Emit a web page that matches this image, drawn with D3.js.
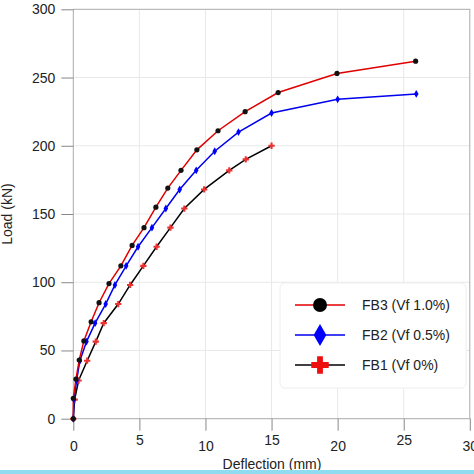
<!DOCTYPE html>
<html><head><meta charset="utf-8">
<script src="https://cdn.jsdelivr.net/npm/d3@7"></script>
<style>body{margin:0;background:#fff}svg{font-family:"Liberation Sans",Arial,sans-serif}</style>
</head><body><div id="chart"></div>
<script>
var fb3X = [0,0,0.2,0.45,0.8,1.35,1.95,2.7,3.6,4.45,5.35,6.25,7.15,8.15,9.35,10.95,13.0,15.5,19.95,25.9];
var fb3Y = [0,15,29,43,57,71,85,99,112,127,140,155,169,182,197,211,225,239,253,262];
var fb2X = [0,0.05,0.25,0.5,1.0,1.65,2.45,3.15,4.0,4.9,5.95,7.0,8.05,9.3,10.7,12.5,15.0,20.0,25.95];
var fb2Y = [0,14,28,42.5,56.5,70,84,98,112,126,140,154,168,182,196,210,224,234,238];
var fb1X = [0,0.1,0.4,1.05,1.7,2.3,3.4,4.3,5.3,6.3,7.35,8.4,9.9,11.8,13.05,15.0];
var fb1Y = [0,14,28,42.5,56.5,70,84,98,112,126,140,154,168,182,190,200];
var xTicks = [0,5,10,15,20,25,30];
var yTicks = [0,50,100,150,200,250,300];
var names = ["FB3 (Vf 1.0%)","FB2 (Vf 0.5%)","FB1 (Vf 0%)"];

var width = 474, height = 474;
var svg = d3.select("#chart").append("svg").attr("width", width).attr("height", height);

var x = d3.scaleLinear().domain([0,30]).range([73.3,469.8]);
var y = d3.scaleLinear().domain([0,300]).range([418.7,9.3]);

// grid
svg.append("g").selectAll("line").data(xTicks.slice(1,-1)).enter().append("line")
  .attr("x1", d => x(d)).attr("x2", d => x(d)).attr("y1", y(300)).attr("y2", y(0))
  .attr("stroke", "#e8e8e8");
svg.append("g").selectAll("line").data(yTicks.slice(1,-1)).enter().append("line")
  .attr("x1", x(0)).attr("x2", x(30)).attr("y1", d => y(d)).attr("y2", d => y(d))
  .attr("stroke", "#e8e8e8");

// frame
svg.append("rect").attr("x", x(0)).attr("y", y(300)).attr("width", x(30)-x(0)).attr("height", y(0)-y(300))
  .attr("fill", "none").attr("stroke", "#aaa");

// y axis
var ya = svg.append("g").attr("transform", "translate(" + x(0) + ",0)")
  .call(d3.axisLeft(y).tickValues(yTicks).tickSize(12).tickPadding(6));
ya.select(".domain").remove();
ya.selectAll("line").attr("stroke", "#888");
ya.selectAll("text").attr("font-size", 14).attr("fill", "#222");

// x axis
var xa = svg.append("g").attr("transform", "translate(0," + y(0) + ")")
  .call(d3.axisBottom(x).tickValues(xTicks).tickSize(12));
xa.select(".domain").remove();
xa.selectAll("line").attr("stroke", "#888");
xa.selectAll("text").attr("font-size", 14).attr("fill", "#222")
  .attr("y", (d, i) => i % 2 ? 16 : 22);

svg.append("text").attr("transform", "translate(12,214) rotate(-90)").attr("text-anchor", "middle")
  .attr("font-size", 14).attr("fill", "#222").text("Load (kN)");
svg.append("text").attr("x", 272).attr("y", 469).attr("text-anchor", "middle")
  .attr("font-size", 14).attr("fill", "#222").text("Deflection (mm)");

var line = d3.line().x(d => x(d[0])).y(d => y(d[1]));
function zip(a, b) { return a.map((v, i) => [v, b[i]]); }
var d3s = zip(fb3X, fb3Y), d2s = zip(fb2X, fb2Y), d1s = zip(fb1X, fb1Y);

svg.append("path").datum(d1s).attr("d", line).attr("fill", "none").attr("stroke", "#000").attr("stroke-width", 1.5);
svg.append("path").datum(d2s).attr("d", line).attr("fill", "none").attr("stroke", "#0000ee").attr("stroke-width", 1.5);
svg.append("path").datum(d3s).attr("d", line).attr("fill", "none").attr("stroke", "#e00000").attr("stroke-width", 1.5);

var cross = d3.symbol().type(d3.symbolCross);
svg.append("g").selectAll("path").data(d1s).enter().append("path")
  .attr("transform", d => "translate(" + x(d[0]) + "," + y(d[1]) + ")")
  .attr("d", cross.size(22)()).attr("fill", "#ee3030");
svg.append("g").selectAll("path").data(d2s).enter().append("path")
  .attr("transform", d => "translate(" + x(d[0]) + "," + y(d[1]) + ")")
  .attr("d", d3.symbol().type(d3.symbolDiamond).size(18)()).attr("fill", "#0000ff");
svg.append("g").selectAll("circle").data(d3s).enter().append("circle")
  .attr("cx", d => x(d[0])).attr("cy", d => y(d[1])).attr("r", 2.6).attr("fill", "#111");

// legend
var lg = svg.append("g");
lg.append("rect").attr("x", 280).attr("y", 283).attr("width", 186).attr("height", 105).attr("rx", 5)
  .attr("fill", "#fff").attr("stroke", "#eee");
var colors = ["#e00000","#0000ee","#000"];
names.forEach(function(n, i) {
  var ly = 305 + i * 30;
  lg.append("line").attr("x1", 295).attr("x2", 345).attr("y1", ly).attr("y2", ly)
    .attr("stroke", colors[i]).attr("stroke-width", 1.5);
  if (i === 0) lg.append("circle").attr("cx", 320).attr("cy", ly).attr("r", 7).attr("fill", "#000");
  if (i === 1) lg.append("path").attr("transform", "translate(320," + ly + ")")
    .attr("d", d3.symbol().type(d3.symbolDiamond).size(140)()).attr("fill", "#0000ff");
  if (i === 2) lg.append("path").attr("transform", "translate(320," + ly + ")")
    .attr("d", d3.symbol().type(d3.symbolCross).size(170)()).attr("fill", "#ee1010");
  lg.append("text").attr("x", 362).attr("y", ly + 5).attr("font-size", 14).attr("fill", "#222").text(n);
});

svg.append("rect").attr("x", 0).attr("y", 470).attr("width", width).attr("height", 4).attr("fill", "#8fdcf0");
</script></body></html>
